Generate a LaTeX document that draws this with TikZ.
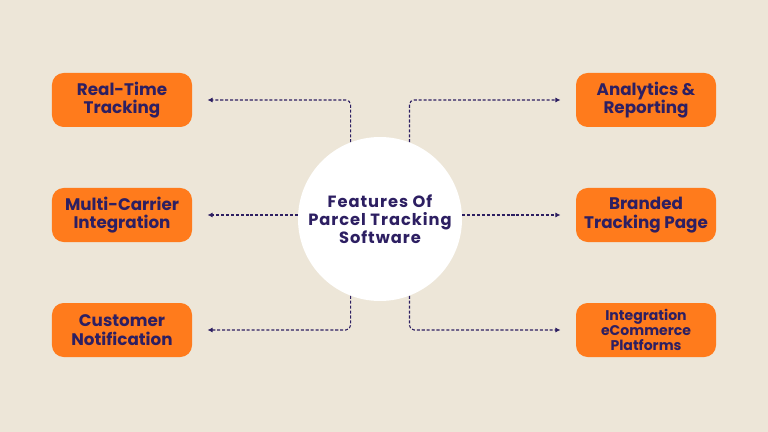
\documentclass[tikz,border=0pt]{standalone}
\usepackage{fontspec}
\setmainfont{Poppins}
\usetikzlibrary{positioning,arrows.meta,calc}
\definecolor{colBack}{RGB}{237,230,216}
\definecolor{colOrange}{RGB}{255,123,28}
\definecolor{colNavy}{RGB}{45,31,98}
\definecolor{colHub}{RGB}{255,255,255}

\begin{document}
\begin{tikzpicture}[x=0.03cm, y=-0.03cm,
  feat/.style={rectangle, rounded corners=10pt, fill=colOrange, text=colNavy,
    minimum width=4.2cm, minimum height=1.62cm, align=center,
    font=\bfseries\fontsize{14.3}{16}\selectfont},
  hub/.style={circle, fill=colHub, minimum size=4.92cm, inner sep=0pt, align=center,
    text=colNavy, font=\fontsize{13.9}{15.5}\selectfont\addfontfeature{LetterSpace=6}\bfseries},
  conn/.style={-{Latex[length=4.5pt,width=4.5pt]}, colNavy, line width=0.9pt,
    dash pattern=on 2.6pt off 1.6pt, rounded corners=4pt, shorten >=13pt}]
  \fill[colBack] (0,0) rectangle (768,432);
  \useasboundingbox (0,0) rectangle (768,432);
  % centre
  \node[hub] (hub) at (380,219) {Features Of\\Parcel Tracking\\Software};
  % left column
  \node[feat] (rtt) at (122,100) {Real-Time\\Tracking};
  \node[feat] (mci) at (122,215) {Multi-Carrier\\Integration};
  \node[feat] (cn)  at (122,330) {Customer\\Notification};
  % right column
  \node[feat] (ar)  at (646,100) {Analytics \&\\Reporting};
  \node[feat] (btp) at (646,215) {Branded\\Tracking Page};
  \node[feat, font=\bfseries\fontsize{12}{13}\selectfont] (iep) at (646,330)
    {Integration\\eCommerce\\Platforms};
  % connectors
  \draw[conn] (hub.111) |- (rtt.east);
  \draw[conn] (hub.west |- mci.east) -- (mci.east);
  \draw[conn] (hub.249) |- (cn.east);
  \draw[conn] (hub.69) |- (ar.west);
  \draw[conn] (hub.east |- btp.west) -- (btp.west);
  \draw[conn] (hub.291) |- (iep.west);
\end{tikzpicture}
\end{document}
